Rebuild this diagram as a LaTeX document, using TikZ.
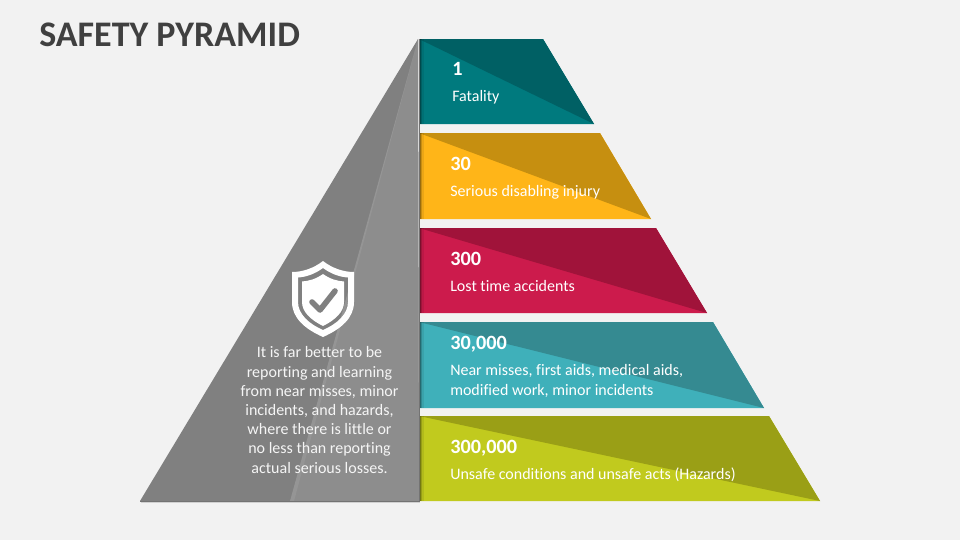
\documentclass[tikz,border=0pt]{standalone}
\usepackage{fontspec}
\setmainfont[Ligatures=CommonOff]{Carlito}
\definecolor{bgc}{HTML}{F2F2F2}
\definecolor{titlec}{HTML}{404040}
\definecolor{graya}{HTML}{808080}
\definecolor{grayb}{HTML}{8D8D8D}
\definecolor{tealL}{HTML}{007A7E}\definecolor{tealD}{HTML}{006064}
\definecolor{amberL}{HTML}{FFB518}\definecolor{amberD}{HTML}{C68F10}
\definecolor{crimL}{HTML}{CC1B4C}\definecolor{crimD}{HTML}{A0133A}
\definecolor{aquaL}{HTML}{3FB0BA}\definecolor{aquaD}{HTML}{358A91}
\definecolor{limeL}{HTML}{C1CA1E}\definecolor{limeD}{HTML}{9A9F16}
\tikzset{
  num/.style={anchor=base west,text=white,font=\fontsize{15.2}{18}\selectfont\bfseries,inner sep=0pt},
  lab/.style={anchor=base west,text=white,font=\fontsize{12}{15}\selectfont,inner sep=0pt,align=left},
  body/.style={text=white!92!gray,font=\fontsize{12}{14.4}\selectfont,inner sep=0pt,align=center},
}
\newcommand{\band}[6]{%
  \fill[#5] (419,#1) -- (#3,#1) -- (#4,#2) -- (419,#2) -- cycle;
  \fill[#6] (419,#1) -- (#3,#1) -- (#4,#2) -- cycle;
  \fill[black,opacity=.4] (419,#1) rectangle (420.5,#2);
  \fill[black,opacity=.22] (420.5,#1) rectangle (422,#2);
  \fill[black,opacity=.08] (422,#1) rectangle (423.5,#2);
}
\begin{document}
\begin{tikzpicture}[x=0.75pt,y=-0.75pt]
\useasboundingbox (0,0) rectangle (960,540);
\fill[bgc] (0,0) rectangle (960,540);
\node[anchor=base west,text=titlec,inner sep=0pt,font=\fontsize{27}{30}\selectfont\bfseries] (title) at (39,46) {SAFETY PYRAMID};
% bands
\band{39}{124}{543}{594}{tealL}{tealD}
\band{133}{219}{600}{651}{amberL}{amberD}
\band{228}{313}{656}{707}{crimL}{crimD}
\band{322}{408}{713}{764}{aquaL}{aquaD}
\band{416}{501}{769}{820}{limeL}{limeD}
% left face
\fill[black!18] (141,502.5) -- (419.5,502.5) -- (419.5,501) -- (141,501) -- cycle;
\fill[graya] (418,39) -- (140,501) -- (419,501) -- cycle;
\fill[grayb] (418,39) -- (290,501) -- (419,501) -- cycle;
\fill[white,opacity=.08] (418,39) -- (290,501) -- (294,501) -- cycle;
\draw[black!55,line width=.5pt] (419,39) -- (419,501) -- (140,501);
% shield
\begin{scope}[shift={(323,300)}]
  \fill[white,even odd rule]
    (0,-39) .. controls (9,-32) and (20,-28) .. (31,-28)
    -- (31,2) .. controls (31,18) and (18,29) .. (0,37)
    .. controls (-18,29) and (-31,18) .. (-31,2)
    -- (-31,-28) .. controls (-20,-28) and (-9,-32) .. (0,-39) -- cycle
    (0,-32) .. controls (-8,-26) and (-17,-23) .. (-25,-22.5)
    -- (-25,2) .. controls (-25,14) and (-14,24) .. (0,30)
    .. controls (14,24) and (25,14) .. (25,2)
    -- (25,-22.5) .. controls (17,-23) and (8,-26) .. (0,-32) -- cycle;
  \fill[white]
    (0,-26) .. controls (-7,-21) and (-14,-19) .. (-21,-18.5)
    -- (-21,2) .. controls (-21,12) and (-12,20) .. (0,26)
    .. controls (12,20) and (21,12) .. (21,2)
    -- (21,-18.5) .. controls (14,-19) and (7,-21) .. (0,-26) -- cycle;
  \draw[graya,line width=4.2pt,line cap=round,line join=round] (-11,2) -- (-3,10) -- (12,-9);
\end{scope}
% texts
\node[body,anchor=north] (note) at (319.5,346.5) {It is far better to be\\reporting and learning\\from near misses, minor\\incidents, and hazards,\\where there is little or\\no less than reporting\\actual serious losses.};
\node[num] (n1) at (452,75) {1};
\node[lab] (l1) at (452,101) {Fatality};
\node[num] (n2) at (450,170) {30};
\node[lab] (l2) at (450,196) {Serious disabling injury};
\node[num] (n3) at (450,265) {300};
\node[lab] (l3) at (450,291) {Lost time accidents};
\node[num] (n4) at (450,349) {30,000};
\node[lab,anchor=north west] (l4) at (450,364.5) {Near misses, first aids, medical aids,\\modified work, minor incidents};
\node[num] (n5) at (450,453) {300,000};
\node[lab] (l5) at (450,479) {Unsafe conditions and unsafe acts (Hazards)};
\end{tikzpicture}
\end{document}
